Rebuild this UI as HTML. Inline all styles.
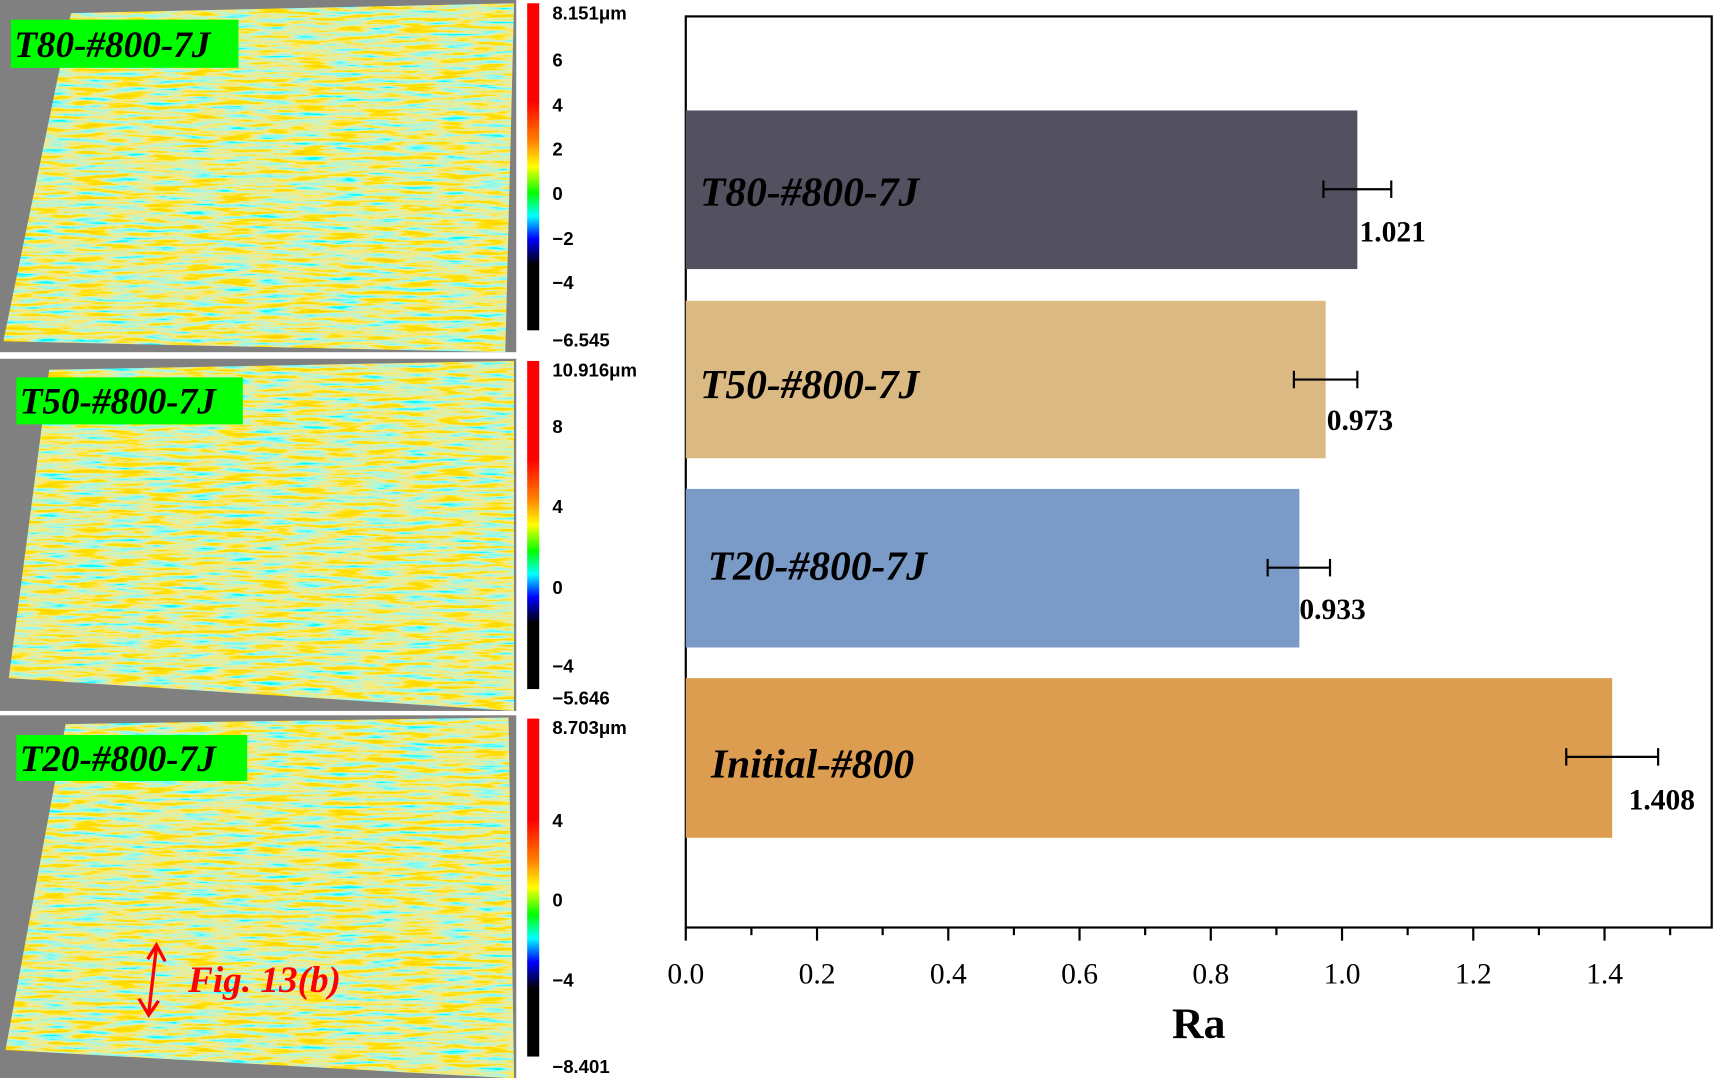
<!DOCTYPE html>
<html><head><meta charset="utf-8"><style>
html,body{margin:0;padding:0;background:#fff;overflow:hidden;}
#w{width:1568px;height:986px;transform:scale(1.09375);transform-origin:0 0;position:relative;}
</style></head><body><div id="w">
<svg width="1568" height="986" viewBox="0 0 1568 986" xmlns="http://www.w3.org/2000/svg" font-family="Liberation Serif, serif">
<defs>
<filter id="tx" x="0" y="0" width="100%" height="100%">
<feTurbulence type="fractalNoise" baseFrequency="0.03 0.3" numOctaves="4" seed="7"/>
<feColorMatrix type="matrix" values="2.8 0 0 0 -0.62  -0.6 0 0 0 1.15  -2.8 0 0 0 1.75  0 0 0 0 1"/>
</filter>
<linearGradient id="cb" x1="0" y1="0" x2="0" y2="1">
<stop offset="0" stop-color="#ff0000"/><stop offset="0.3" stop-color="#ff0000"/>
<stop offset="0.42" stop-color="#ff8000"/><stop offset="0.5" stop-color="#ffff00"/>
<stop offset="0.58" stop-color="#00ff00"/><stop offset="0.65" stop-color="#00ffff"/>
<stop offset="0.72" stop-color="#0000ff"/><stop offset="0.8" stop-color="#000"/><stop offset="1" stop-color="#000"/>
</linearGradient>
<clipPath id="c1"><polygon points="65,12 470,3 462,322 3,312"/></clipPath>
<clipPath id="c2"><polygon points="45,338 470,330 470,650 8,620"/></clipPath>
<clipPath id="c3"><polygon points="60,662 465,656 470,986 5,960"/></clipPath>
</defs>
<rect x="0" y="0" width="472" height="322" fill="#808080"/>
<rect x="0" y="328" width="472" height="322" fill="#808080"/>
<rect x="0" y="654" width="472" height="332" fill="#808080"/>
<g clip-path="url(#c1)"><rect x="0" y="0" width="472" height="322" filter="url(#tx)"/></g>
<g clip-path="url(#c2)"><rect x="0" y="328" width="472" height="322" filter="url(#tx)"/></g>
<g clip-path="url(#c3)"><rect x="0" y="654" width="472" height="332" filter="url(#tx)"/></g>
<g font-weight="bold" font-style="italic" font-size="34">
<rect x="10" y="18" width="208" height="44" fill="#00ff00"/><text x="13" y="52">T80-#800-7J</text>
<rect x="15" y="345" width="207" height="43" fill="#00ff00"/><text x="18" y="378">T50-#800-7J</text>
<rect x="15" y="672" width="211" height="42" fill="#00ff00"/><text x="18" y="705">T20-#800-7J</text>
<text x="172" y="907" fill="#ff0000">Fig. 13(b)</text>
</g>
<g stroke="#ff0000" stroke-width="3" fill="none">
<line x1="143" y1="866" x2="136" y2="926"/>
<polyline points="135,877 143,864 151,879"/><polyline points="127,913 136,928 145,915"/>
</g>
<rect x="482" y="3" width="11" height="299" fill="url(#cb)"/>
<rect x="482" y="330" width="11" height="300" fill="url(#cb)"/>
<rect x="482" y="657" width="11" height="309" fill="url(#cb)"/>
<g font-family="Liberation Sans, sans-serif" font-weight="bold" font-size="17" fill="#000">
<text x="505" y="18">8.151μm</text><text x="505" y="61">6</text><text x="505" y="102">4</text><text x="505" y="142">2</text><text x="505" y="183">0</text><text x="505" y="224">−2</text><text x="505" y="264">−4</text><text x="505" y="317">−6.545</text>
<text x="505" y="344">10.916μm</text><text x="505" y="396">8</text><text x="505" y="469">4</text><text x="505" y="543">0</text><text x="505" y="615">−4</text><text x="505" y="644">−5.646</text>
<text x="505" y="671">8.703μm</text><text x="505" y="756">4</text><text x="505" y="829">0</text><text x="505" y="902">−4</text><text x="505" y="981">−8.401</text>
</g>
<rect x="627" y="15" width="938" height="833" fill="none" stroke="#000" stroke-width="2"/>
<rect x="627" y="101" width="614" height="145" fill="#53515f"/>
<rect x="627" y="275" width="585" height="144" fill="#dbb983"/>
<rect x="627" y="447" width="561" height="145" fill="#7a9ac8"/>
<rect x="627" y="620" width="847" height="146" fill="#dd9d50"/>
<g stroke="#000" stroke-width="2">
<line x1="1210" y1="173" x2="1272" y2="173"/><line x1="1210" y1="165" x2="1210" y2="181"/><line x1="1272" y1="165" x2="1272" y2="181"/>
<line x1="1183" y1="347" x2="1241" y2="347"/><line x1="1183" y1="339" x2="1183" y2="355"/><line x1="1241" y1="339" x2="1241" y2="355"/>
<line x1="1159" y1="519" x2="1216" y2="519"/><line x1="1159" y1="511" x2="1159" y2="527"/><line x1="1216" y1="511" x2="1216" y2="527"/>
<line x1="1432" y1="692" x2="1516" y2="692"/><line x1="1432" y1="684" x2="1432" y2="700"/><line x1="1516" y1="684" x2="1516" y2="700"/>
</g>
<g font-weight="bold" font-style="italic" font-size="38">
<text x="640" y="188">T80-#800-7J</text><text x="640" y="364">T50-#800-7J</text>
<text x="647" y="530">T20-#800-7J</text><text x="650" y="711">Initial-#800</text>
</g>
<g font-weight="bold" font-size="27">
<text x="1243" y="221">1.021</text><text x="1213" y="393">0.973</text>
<text x="1188" y="566">0.933</text><text x="1489" y="740">1.408</text>
</g>
<g stroke="#000" stroke-width="2">
<line x1="627" y1="848" x2="627" y2="860"/><line x1="747" y1="848" x2="747" y2="860"/><line x1="867" y1="848" x2="867" y2="860"/><line x1="987" y1="848" x2="987" y2="860"/><line x1="1107" y1="848" x2="1107" y2="860"/><line x1="1227" y1="848" x2="1227" y2="860"/><line x1="1347" y1="848" x2="1347" y2="860"/><line x1="1467" y1="848" x2="1467" y2="860"/>
<line x1="687" y1="848" x2="687" y2="855"/><line x1="807" y1="848" x2="807" y2="855"/><line x1="927" y1="848" x2="927" y2="855"/><line x1="1047" y1="848" x2="1047" y2="855"/><line x1="1167" y1="848" x2="1167" y2="855"/><line x1="1287" y1="848" x2="1287" y2="855"/><line x1="1407" y1="848" x2="1407" y2="855"/><line x1="1527" y1="848" x2="1527" y2="855"/>
</g>
<g font-size="27" text-anchor="middle">
<text x="627" y="899">0.0</text><text x="747" y="899">0.2</text><text x="867" y="899">0.4</text><text x="987" y="899">0.6</text><text x="1107" y="899">0.8</text><text x="1227" y="899">1.0</text><text x="1347" y="899">1.2</text><text x="1467" y="899">1.4</text>
</g>
<text x="1096" y="949" font-size="40" font-weight="bold" text-anchor="middle">Ra</text>
</svg>
</div></body></html>
